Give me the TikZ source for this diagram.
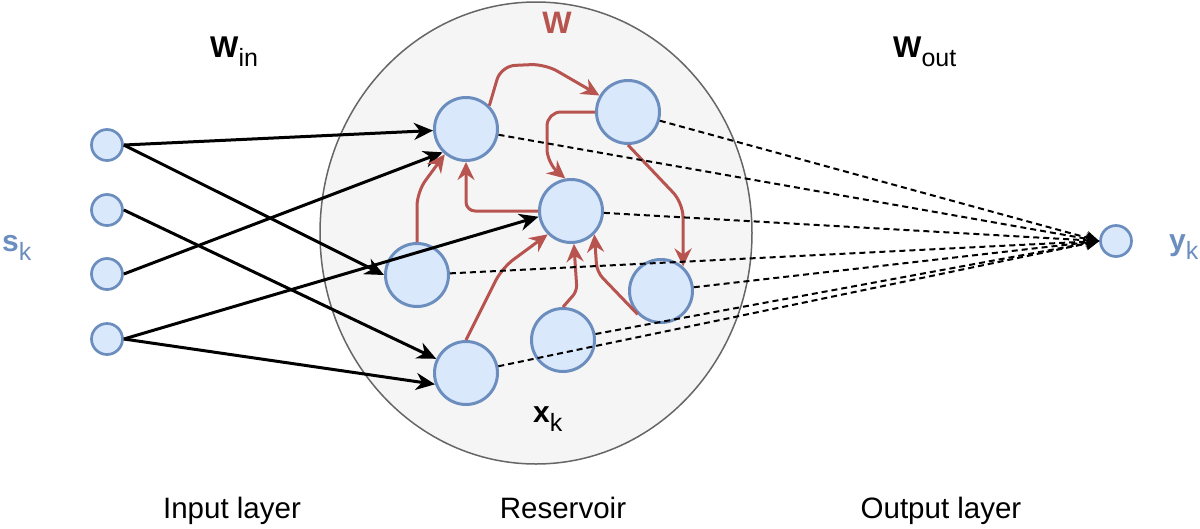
\documentclass[tikz,border=0pt]{standalone}
\usepackage{fontspec}
\setmainfont{Liberation Sans}
\usetikzlibrary{arrows.meta}
\definecolor{nfill}{HTML}{DAE8FC}
\definecolor{nline}{HTML}{6C8EBF}
\definecolor{wred}{HTML}{B85450}
\definecolor{resfill}{HTML}{F5F5F5}
\definecolor{resline}{HTML}{666666}
\newcommand\sublab[2]{\textbf{#1}\raisebox{-9pt}{\fontsize{25}{25}\selectfont #2}}
\begin{document}
\begin{tikzpicture}[x=1pt,y=-1pt,
 neuron/.style={circle,draw=nline,fill=nfill,line width=3pt,minimum size=63pt,inner sep=0pt},
 smallneuron/.style={circle,draw=nline,fill=nfill,line width=2.7pt,minimum size=31pt,inner sep=0pt},
 inarrow/.style={line width=3pt,-{Stealth[length=19pt,width=17pt,inset=6pt]}},
 warrow/.style={draw=wred,line width=3pt,rounded corners=14pt,-{Stealth[length=18pt,width=17pt,inset=6pt]}},
 outarrow/.style={line width=2pt,dash pattern=on 6pt off 4pt,-{Stealth[length=13pt,width=13pt,inset=3pt]}},
 lbl/.style={inner sep=0pt,anchor=base west,font=\fontsize{30}{30}\selectfont},
 bottomlbl/.style={inner sep=0pt,anchor=base,font=\fontsize{29.5}{30}\selectfont},
]
\useasboundingbox (0,0) rectangle (1200,528);
\path[draw=resline,fill=resfill,line width=1.5pt] (536,233) ellipse [x radius=216pt, y radius=231pt];

\node[smallneuron] (i1) at (107,145) {};
\node[smallneuron] (i2) at (107,210) {};
\node[smallneuron] (i3) at (107,274) {};
\node[smallneuron] (i4) at (107,339) {};
\node[neuron] (n1) at (466,129) {};
\node[neuron] (n2) at (628,112) {};
\node[neuron] (n3) at (571,211) {};
\node[neuron] (n4) at (417,275) {};
\node[neuron] (n5) at (466,373) {};
\node[neuron] (n6) at (563,340) {};
\node[neuron] (n7) at (661,291) {};
\node[smallneuron] (out) at (1116,241) {};

% input weights
\draw[inarrow] (i1.east) -- (n1);
\draw[inarrow] (i1.east) -- (n4.west);
\draw[inarrow] (i2.east) -- (n5);
\draw[inarrow] (i3.east) -- (n1.225);
\draw[inarrow] (i4.east) -- (n3.190);
\draw[inarrow] (i4.east) -- (n5.200);

% reservoir weights
\draw[warrow] (n1.45) -- (501,66) -- (545,64) -- (n2.150);
\draw[warrow] (n2.west) -- (547,112) -- (547,163) -- (n3.100);
\draw[warrow,rounded corners=9pt] (n3.west) -- (466,211) -- (n1.south);
\draw[warrow] (n4.north) -- (417,192) -- (n1.230);
\draw[warrow] (n2.south) -- (683,203) -- (n7.48);
\draw[warrow] (n5.north) -- (502,268) -- (n3.225);
\draw[warrow,rounded corners=6pt] (n6.north) -- (577,291) -- (n3.275);
\draw[warrow,rounded corners=8pt] (n7.225) -- (597,272) -- (n3.315);

% output weights
\foreach \n in {n1,n2,n3,n4,n5,n6,n7} \draw[outarrow] (\n) -- (out.west);

% labels
\node[lbl] (win) at (210,57) {\sublab{W}{in}};
\node[lbl] (wout) at (893,57) {\sublab{W}{out}};
\node[lbl] (xk) at (533,422) {\sublab{x}{k}};
\node[lbl,text=nline] (sk) at (2,251) {\sublab{s}{k}};
\node[lbl,text=nline] (yk) at (1169,250) {\sublab{y}{k}};
\node[inner sep=0pt,anchor=base,text=wred,font=\fontsize{31}{31}\selectfont\bfseries] (wlab) at (557,33) {W};
\node[bottomlbl] (inl) at (232,518) {Input layer};
\node[bottomlbl] (resl) at (563,518) {Reservoir};
\node[bottomlbl] (outl) at (941,518) {Output layer};
\end{tikzpicture}
\end{document}
